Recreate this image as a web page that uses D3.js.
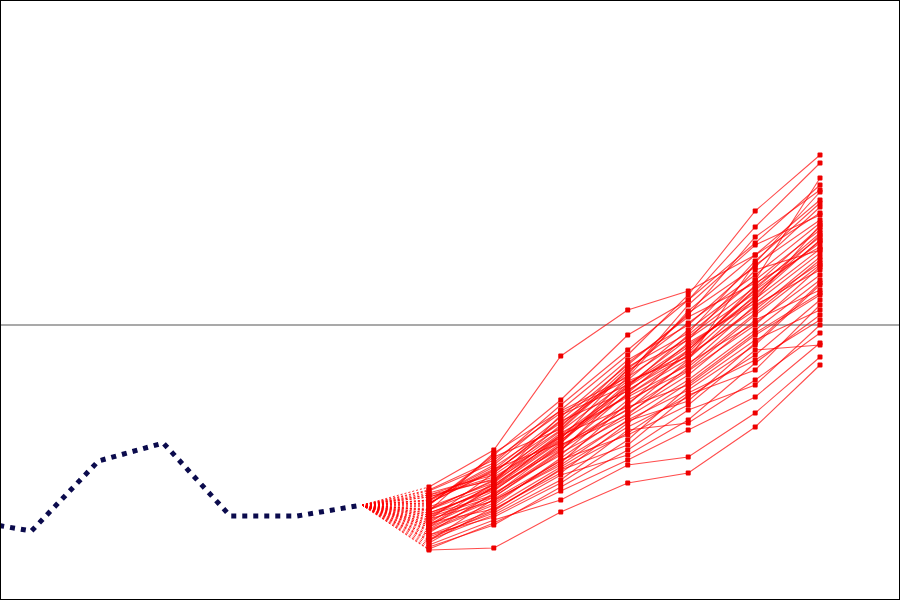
<!DOCTYPE html>
<html>
<head>
<meta charset="utf-8">
<script src="https://cdn.jsdelivr.net/npm/d3@7"></script>
<style>
	html, body { margin: 0; padding: 0; background: #fff; }
	svg { display: block; }
</style>
</head>
<body>
<script>
	// Observed history (monthly)
	var histDates = ['2014-04-01', '2014-05-01', '2014-06-01', '2014-07-01', '2014-08-01', '2014-09-01', '2014-10-01'];
	var histValues = [-1.95, -2.06, -1.36, -1.18, -1.91, -1.91, -1.80];

	// Simulated paths, one row per path
	var simDates = ['2014-11-01', '2014-12-01', '2015-01-01', '2015-02-01', '2015-03-01', '2015-04-01', '2015-05-01'];
	var simPaths = [
		[-1.62, -1.25, -0.31, 0.15, 0.34, 0.70, 1.25],
		[-1.75, -1.40, -0.85, -0.30, 0.30, 1.14, 1.70],
		[-1.80, -1.30, -0.75, -0.10, 0.25, 0.98, 1.62],
		[-2.25, -2.23, -1.87, -1.58, -1.48, -1.02, -0.40],
		[-2.20, -1.95, -1.75, -1.40, -1.32, -0.88, -0.32],
		[-1.90, -1.62, -1.10, -0.62, -0.10, 0.45, 1.47],
		[-2.00, -1.70, -1.20, -0.85, -0.35, 0.62, 1.33],
		[-1.70, -1.55, -1.00, -0.50, 0.20, 0.80, 1.10],
		[-1.95, -1.48, -0.95, -0.40, 0.10, 0.88, 1.35],
		[-2.10, -1.85, -1.45, -1.20, -0.70, -0.45, 0.20],
		[-2.05, -1.78, -1.35, -1.10, -0.80, -0.25, -0.20],
		[-1.85, -1.60, -1.15, -0.70, -0.30, 0.30, 0.90],
		[-1.92, -1.72, -1.28, -0.92, -0.55, -0.05, 0.45],
		[-2.15, -1.90, -1.55, -1.05, -0.98, -0.55, -0.08],
		[-1.68, -1.50, -1.05, -0.45, -0.15, 0.55, 0.75],
		[-1.98, -1.58, -0.90, -0.60, -0.20, 0.25, 1.00],
		[-2.08, -1.68, -1.30, -0.75, -0.45, 0.10, 0.60],
		[-1.78, -1.45, -0.92, -0.35, 0.00, 0.60, 1.05],
		[-2.22, -2.00, -1.62, -1.25, -0.85, -0.60, 0.00],
		[-1.88, -1.65, -1.22, -0.80, -0.25, 0.35, 0.82],
		[-2.02, -1.75, -1.40, -0.95, -0.65, -0.20, 0.40],
		[-1.65, -1.35, -0.88, -0.55, -0.05, 0.45, 0.95],
		[-1.72, -1.52, -1.12, -0.65, -0.30, 0.15, 0.68],
		[-2.12, -1.88, -1.50, -1.30, -0.95, -0.38, 0.10],
		[-1.82, -1.58, -1.08, -0.72, -0.40, 0.20, 0.55],
		[-1.96, -1.66, -1.18, -0.52, -0.12, 0.38, 0.88],
		[-2.18, -1.82, -1.42, -1.02, -0.72, -0.30, 0.25],
		[-1.75, -1.42, -0.98, -0.48, 0.12, 0.58, 1.18],
		[-2.06, -1.80, -1.33, -0.88, -0.50, 0.05, 0.35],
		[-1.90, -1.70, -1.25, -0.68, -0.18, 0.22, 0.72],
		[-1.85, -1.55, -1.10, -0.82, -0.60, -0.10, 0.30],
		[-2.00, -1.62, -1.16, -0.58, -0.28, 0.40, 0.98],
		[-1.94, -1.76, -1.38, -0.78, -0.38, 0.02, 0.50],
		[-1.78, -1.46, -1.02, -0.38, 0.08, 0.42, 0.78],
		[-2.10, -1.92, -1.58, -1.15, -0.62, -0.15, 0.15],
		[-1.66, -1.38, -0.80, -0.25, 0.25, 0.82, 1.40],
		[-1.88, -1.64, -1.20, -0.90, -0.42, 0.12, 0.65],
		[-2.04, -1.72, -1.26, -0.62, -0.22, 0.28, 0.85],
		[-1.72, -1.54, -1.06, -0.56, -0.32, 0.18, 0.62],
		[-1.98, -1.84, -1.48, -0.98, -0.58, -0.08, 0.32],
		[-2.14, -1.86, -1.44, -1.08, -0.68, -0.35, 0.05],
		[-1.84, -1.56, -1.14, -0.44, 0.02, 0.50, 1.02],
		[-1.70, -1.48, -0.96, -0.66, -0.25, 0.36, 0.92],
		[-2.24, -1.98, -1.66, -1.35, -1.05, -0.72, -0.18],
		[-1.92, -1.60, -1.12, -0.70, -0.34, 0.26, 0.76],
		[-1.80, -1.32, -1.04, -0.42, -0.08, 0.64, 1.22],
		[-2.02, -1.62, -1.24, -0.84, -0.46, 0.00, 0.58],
		[-1.86, -1.28, -0.86, -0.52, 0.14, 0.70, 1.12],
		[-2.16, -1.74, -1.36, -0.96, -0.76, -0.18, 0.42],
		[-1.76, -1.44, -1.18, -0.60, -0.14, 0.32, 0.84]
	];

	// Reference level
	var threshold = 0;

	var width = 900,
		height = 600;

	var parse = d3.timeParse('%Y-%m-%d');

	var x = d3.scaleTime()
		.domain([parse('2014-10-01'), parse('2015-05-01')])
		.range([362, 820]);

	var y = d3.scaleLinear()
		.domain([-2.75, 3.25])
		.range([height, 0]);

	var svg = d3.select('body').append('svg')
		.attr('width', width)
		.attr('height', height);

	var g = svg.append('g');

	g.append('defs').append('clipPath')
		.attr('id', 'plot-clip')
		.append('rect')
			.attr('width', width)
			.attr('height', height);

	var plot = g.append('g').attr('clip-path', 'url(#plot-clip)');

	// Reference line
	plot.append('line')
		.attr('x1', 0)
		.attr('x2', width)
		.attr('y1', y(threshold))
		.attr('y2', y(threshold))
		.style('stroke', '#555')
		.style('stroke-width', 1.2);

	var line = d3.line()
		.x(function(d) { return x(d.date); })
		.y(function(d) { return y(d.value); });

	var hist = histDates.map(function(d, i) { return { date: parse(d), value: histValues[i] }; });
	var last = hist[hist.length - 1];

	var paths = simPaths.map(function(row) {
		return row.map(function(v, i) { return { date: parse(simDates[i]), value: v }; });
	});

	// Dotted links from last observation to first simulated step
	plot.selectAll('.link')
		.data(paths)
		.enter().append('path')
			.attr('class', 'link')
			.attr('d', function(p) { return line([last, p[0]]); })
			.style('fill', 'none')
			.style('stroke', '#ff0000')
			.style('stroke-opacity', 0.8)
			.style('stroke-width', 1)
			.style('stroke-dasharray', '2,2');

	// Simulated paths
	plot.selectAll('.sim')
		.data(paths)
		.enter().append('path')
			.attr('class', 'sim')
			.attr('d', line)
			.style('fill', 'none')
			.style('stroke', '#ff0000')
			.style('stroke-opacity', 0.7)
			.style('stroke-width', 1.1);

	// Markers
	var pts = [];
	paths.forEach(function(p) { p.forEach(function(d) { pts.push(d); }); });

	plot.selectAll('.pt')
		.data(pts)
		.enter().append('rect')
			.attr('class', 'pt')
			.attr('x', function(d) { return x(d.date) - 2.5; })
			.attr('y', function(d) { return y(d.value) - 2.5; })
			.attr('width', 5)
			.attr('height', 5)
			.attr('rx', 1)
			.style('fill', '#ee0000');

	// History
	plot.append('path')
		.datum(hist)
		.attr('d', line)
		.style('fill', 'none')
		.style('stroke', '#0b0b4d')
		.style('stroke-width', 5)
		.style('stroke-dasharray', '5,6');

	// Frame
	svg.append('rect')
		.attr('x', 0.5)
		.attr('y', 0.5)
		.attr('width', width - 1)
		.attr('height', height - 1)
		.style('fill', 'none')
		.style('stroke', '#000')
		.style('stroke-width', 1);
</script>
</body>
</html>
